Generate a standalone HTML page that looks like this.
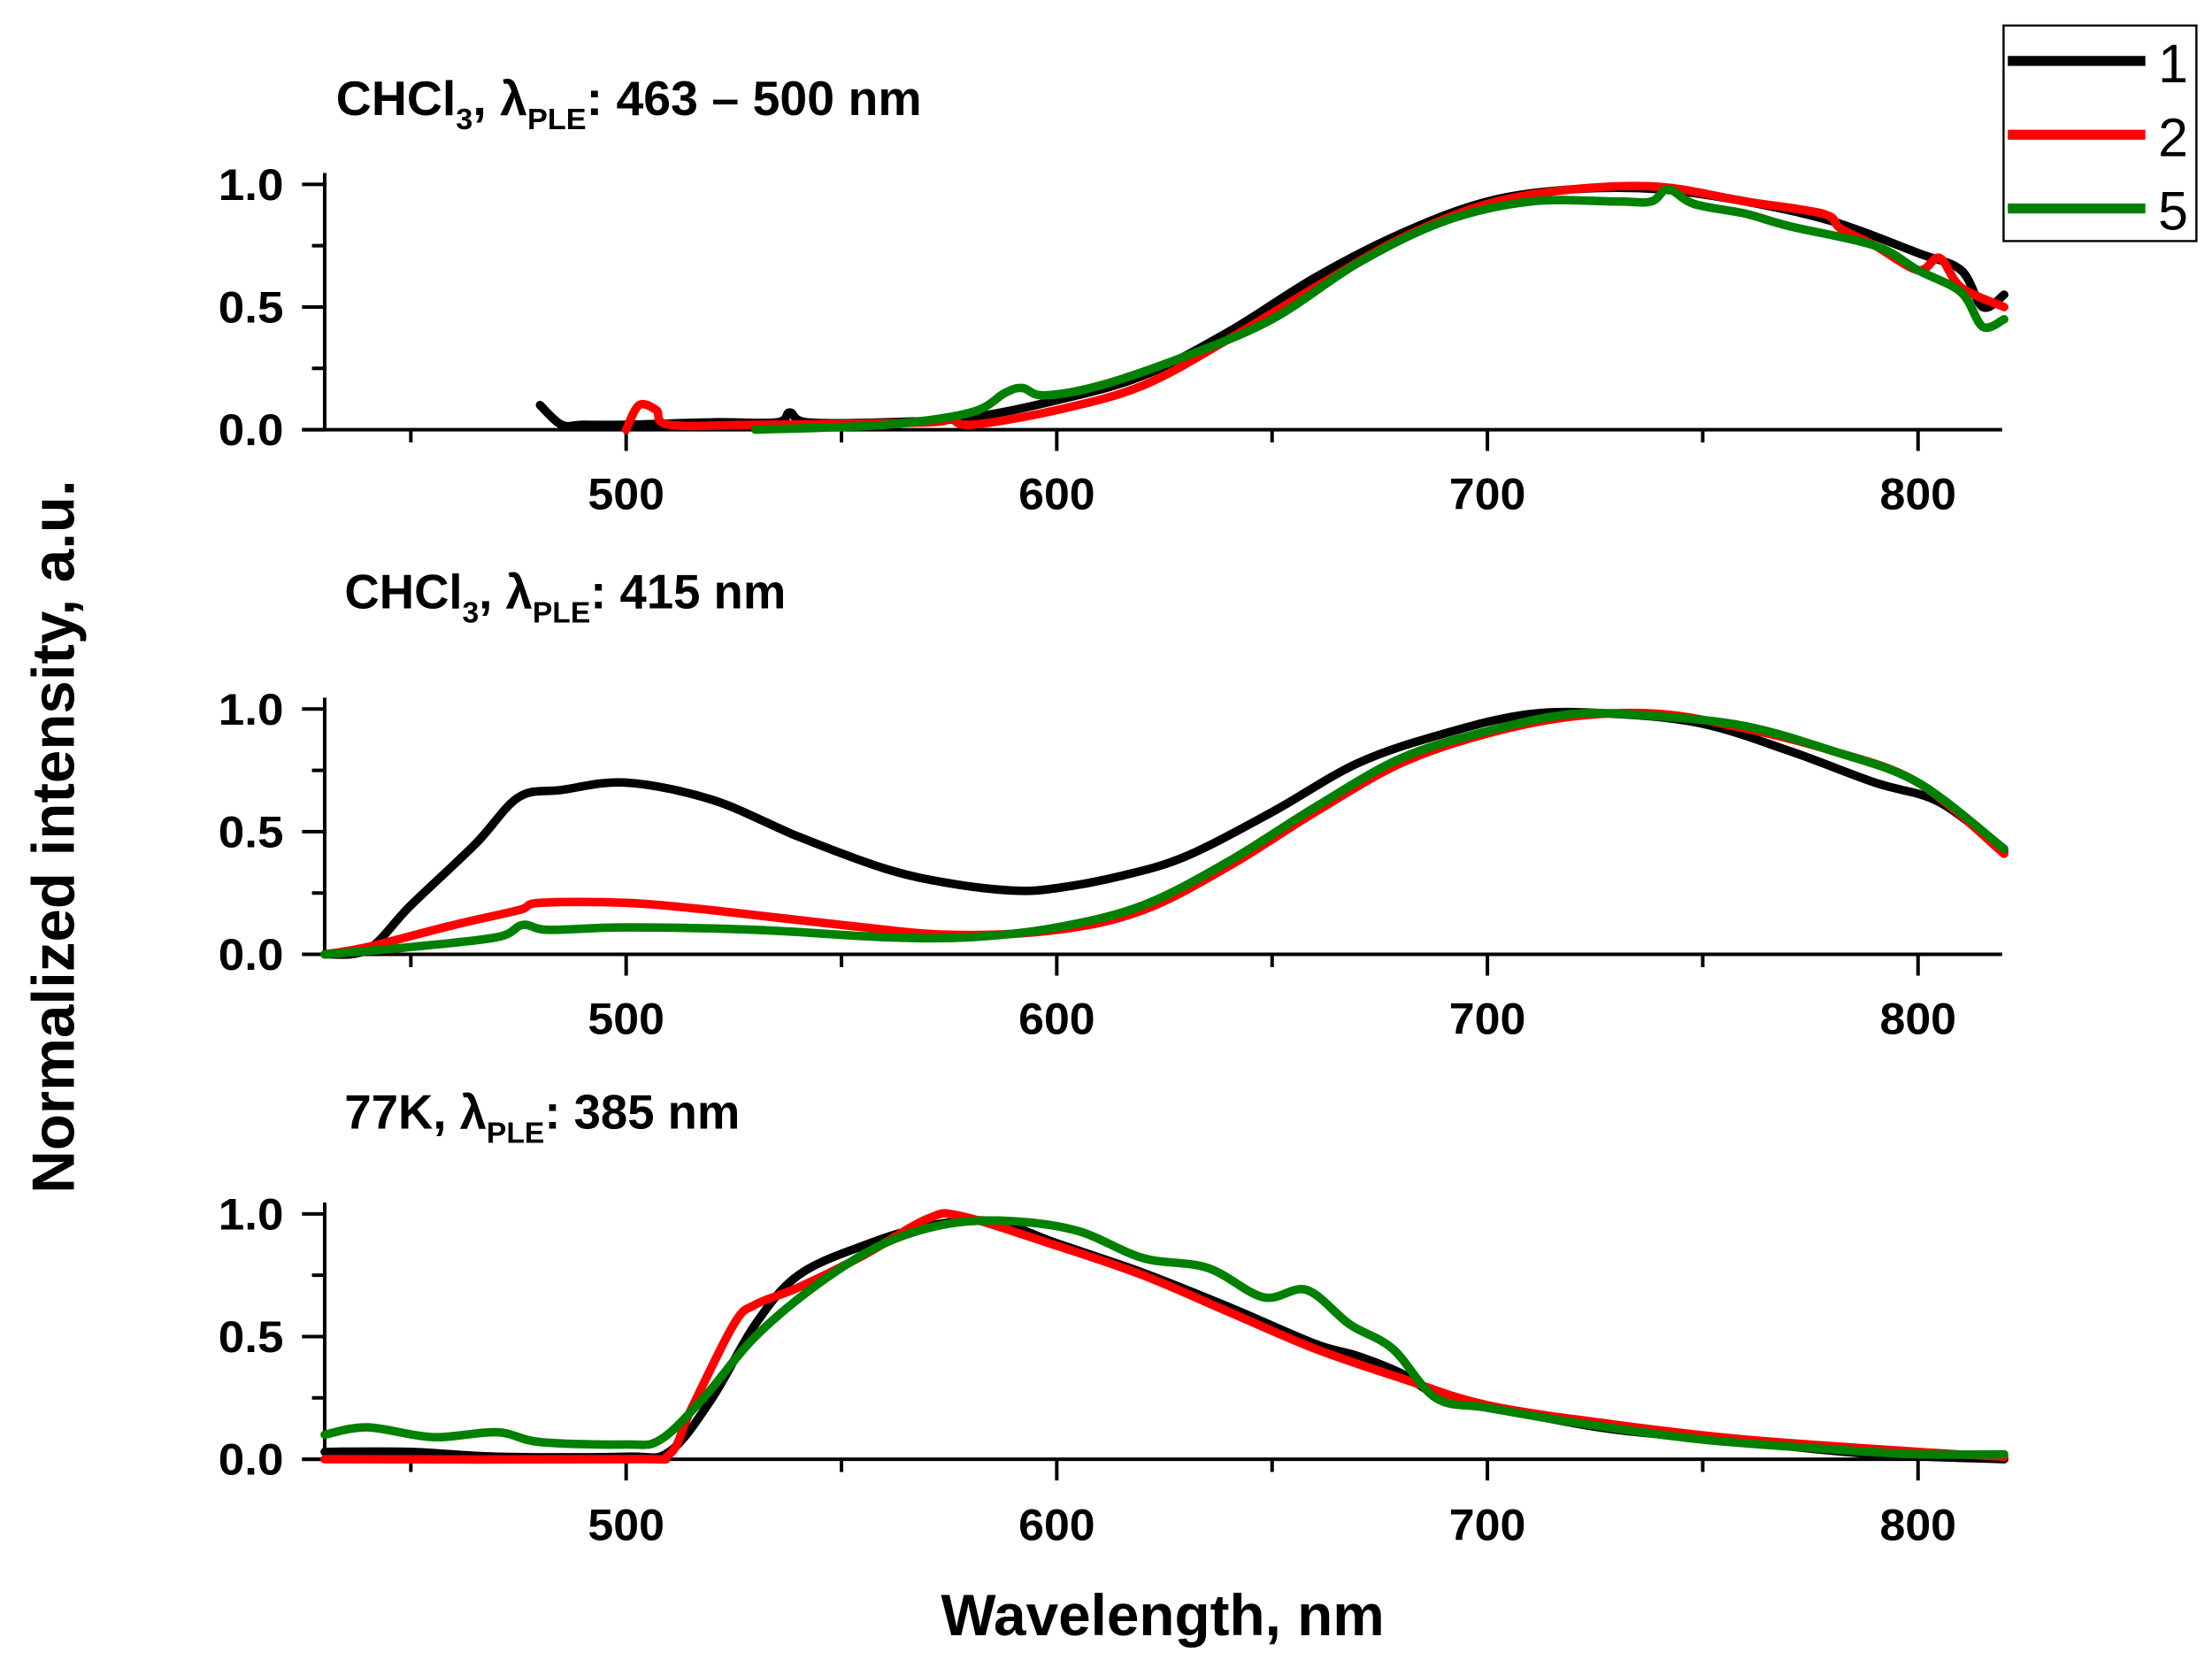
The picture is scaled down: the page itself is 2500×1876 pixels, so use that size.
<!DOCTYPE html>
<html><head><meta charset="utf-8"><style>
html,body{margin:0;padding:0;background:#fff;}
svg{display:block;}
text{font-family:"Liberation Sans Narrow","Liberation Sans",sans-serif;font-weight:bold;fill:#000;}
</style></head><body>
<svg id="s" width="2500" height="1876" viewBox="0 0 1560 1170.6" preserveAspectRatio="none" xmlns="http://www.w3.org/2000/svg">
<g id="g"></g>
<text x="237" y="81" font-size="34" textLength="413" lengthAdjust="spacingAndGlyphs">CHCl<tspan font-size="21" dy="10">3</tspan><tspan dy="-10">, λ</tspan><tspan font-size="21" dy="10">PLE</tspan><tspan dy="-10">: 463 – 500 nm</tspan></text>
<text x="243" y="429" font-size="34">CHCl<tspan font-size="21" dy="10">3</tspan><tspan dy="-10">, λ</tspan><tspan font-size="21" dy="10">PLE</tspan><tspan dy="-10">: 415 nm</tspan></text>
<text x="243" y="796" font-size="34">77K, λ<tspan font-size="21" dy="10">PLE</tspan><tspan dy="-10">: 385 nm</tspan></text>
<text x="820" y="1153" font-size="41" text-anchor="middle" font-family="Liberation Sans, sans-serif">Wavelength, nm</text>
<text transform="translate(52,590) rotate(-90)" font-size="42" text-anchor="middle" font-family="Liberation Sans, sans-serif">Normalized intensity, a.u.</text>
<rect x="1413" y="18" width="136" height="152" fill="#fff" stroke="#000" stroke-width="1.5"/>
<line x1="1416" y1="43" x2="1513" y2="43" stroke="#000" stroke-width="7"/>
<line x1="1416" y1="95" x2="1513" y2="95" stroke="#ff0000" stroke-width="7"/>
<line x1="1416" y1="147" x2="1513" y2="147" stroke="#008000" stroke-width="7"/>
<text x="1522" y="58" font-size="38" style="font-weight:normal">1</text>
<text x="1522" y="110" font-size="38" style="font-weight:normal">2</text>
<text x="1522" y="162" font-size="38" style="font-weight:normal">5</text>
</svg>
<script>
var g=document.getElementById('g'),NS='http://www.w3.org/2000/svg';
function X(n){return 229+(n-430)*3.037;}
function el(t,a){var e=document.createElementNS(NS,t);for(var k in a)e.setAttribute(k,a[k]);g.appendChild(e);return e;}
var panels=[
{y0:303,lab:348,d:{
k:[[480,.1],[485,.02],[490,.02],[500,.02],[520,.03],[535,.03],[538,.07],[542,.03],[560,.03],[580,.05],[600,.12],[620,.22],[640,.40],[660,.62],[680,.80],[700,.93],[720,.98],[740,.98],[760,.93],[780,.85],[800,.72],[810,.65],[815,.5],[820,.55]],
r:[[500,0],[503,.1],[507,.08],[510,.02],[530,.02],[570,.03],[575,.05],[580,.02],[600,.08],[620,.18],[640,.37],[660,.58],[680,.78],[700,.92],[720,.98],[740,.99],[760,.93],[778,.88],[782,.82],[790,.75],[800,.65],[805,.70],[810,.58],[820,.5]],
g:[[530,0],[560,.02],[580,.07],[588,.15],[592,.17],[597,.14],[610,.18],[630,.30],[650,.45],[670,.68],[690,.85],[710,.93],[730,.93],[738,.93],[742,.98],[748,.92],[760,.88],[770,.83],[790,.75],[800,.65],[810,.56],[815,.42],[820,.45]]}},
{y0:673,lab:718,d:{
k:[[430,0],[440,.02],[450,.2],[465,.45],[475,.64],[485,.67],[500,.70],[520,.63],[540,.48],[560,.35],[575,.29],[590,.26],[600,.27],[615,.32],[630,.40],[650,.58],[670,.78],[690,.90],[710,.98],[730,.98],[750,.94],[770,.83],[790,.70],[805,.62],[820,.42]],
r:[[430,0],[440,.03],[460,.12],[475,.18],[480,.21],[500,.21],[520,.18],[550,.12],[575,.08],[600,.10],[620,.18],[640,.36],[660,.58],[680,.78],[700,.90],[720,.97],[740,.98],[760,.92],[780,.83],[800,.70],[820,.41]],
g:[[430,0],[450,.03],[470,.07],[476,.12],[482,.10],[500,.11],[530,.10],[560,.07],[580,.07],[600,.11],[620,.20],[640,.38],[660,.60],[680,.80],[700,.91],[720,.98],[740,.97],[760,.93],[780,.83],[800,.70],[820,.43]]}},
{y0:1029,lab:1075,d:{
k:[[430,.03],[450,.03],[470,.01],[500,.01],[510,.03],[520,.25],[530,.55],[540,.75],[555,.87],[570,.95],[585,.97],[600,.88],[620,.76],[640,.62],[660,.47],[670,.42],[680,.35],[690,.25],[710,.18],[730,.12],[760,.07],[790,.02],[820,0]],
r:[[430,0],[500,0],[510,.02],[515,.2],[525,.55],[530,.63],[540,.70],[555,.83],[570,.98],[578,.99],[600,.87],[620,.75],[640,.60],[660,.45],[680,.33],[700,.22],[730,.14],[760,.08],[800,.03],[820,.01]],
g:[[430,.1],[440,.13],[455,.09],[470,.11],[480,.07],[500,.06],[508,.08],[518,.25],[530,.5],[545,.72],[560,.88],[575,.96],[590,.97],[605,.93],[620,.82],[635,.78],[648,.66],[658,.69],[668,.55],[678,.45],[688,.25],[700,.21],[720,.15],[750,.08],[780,.04],[800,.02],[820,.02]]}}];
var col={k:'#000',r:'#ff0000',g:'#008000'};
panels.forEach(function(p){
 var y0=p.y0,s=173;
 el('line',{x1:213,y1:y0,x2:1412,y2:y0,stroke:'#000','stroke-width':2.5});
 el('line',{x1:229,y1:y0,x2:229,y2:y0-s-8,stroke:'#000','stroke-width':2.5});
 for(var v=0;v<=1.001;v+=0.25){var yy=y0-v*s,maj=Math.abs(v*2-Math.round(v*2))<.01;
  el('line',{x1:maj?213:220,y1:yy,x2:229,y2:yy,stroke:'#000','stroke-width':2.5});
  if(maj){var t=el('text',{x:200,y:yy+11,'font-size':31,'text-anchor':'end',textLength:46,lengthAdjust:'spacingAndGlyphs'});t.textContent=v.toFixed(1);}}
 for(var n=450;n<=800;n+=50){var maj=n%100==0;
  el('line',{x1:X(n),y1:y0,x2:X(n),y2:y0+(maj?15:9),stroke:'#000','stroke-width':2.5});
  if(maj){var t=el('text',{x:X(n)-27,y:p.lab+11,'font-size':31,textLength:54,lengthAdjust:'spacingAndGlyphs'});t.textContent=n;}}
 ['k','r','g'].forEach(function(c){
  var pts=p.d[c].map(function(q){return [X(q[0]),y0-q[1]*s];});
  var d='M'+pts[0][0]+','+pts[0][1];
  for(var i=1;i<pts.length;i++){var p0=pts[i-2]||pts[i-1],p1=pts[i-1],p2=pts[i],p3=pts[i+1]||p2;
   d+=' C'+(p1[0]+(p2[0]-p0[0])/6)+','+(p1[1]+(p2[1]-p0[1])/6)+' '+(p2[0]-(p3[0]-p1[0])/6)+','+(p2[1]-(p3[1]-p1[1])/6)+' '+p2[0]+','+p2[1];}
  el('path',{d:d,fill:'none',stroke:col[c],'stroke-width':6,'stroke-linejoin':'round','stroke-linecap':'round'});
 });
});
</script>
</body></html>
